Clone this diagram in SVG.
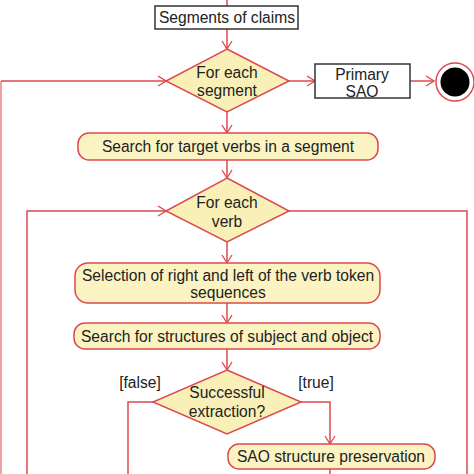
<svg xmlns="http://www.w3.org/2000/svg" width="474" height="474" viewBox="0 0 474 474">
<defs>
<marker id="arr" markerWidth="10" markerHeight="12" refX="9" refY="6" orient="auto" markerUnits="userSpaceOnUse">
<path d="M1,1 L9,6 L1,11" fill="none" stroke="#dc4a4f" stroke-width="1.3"/>
</marker>
<style>
text{font-family:"Liberation Sans",Arial,sans-serif;font-size:15.6px;fill:#222;text-anchor:middle}
.act{fill:#fbf4c2;stroke:#dc4a4f;stroke-width:1.5}
.dec{fill:#f9f0b8;stroke:#dc4a4f;stroke-width:1.5}
.obj{fill:#fff;stroke:#333;stroke-width:1.5}
.e{fill:none;stroke:#dc4a4f;stroke-width:1.5}
.ea{fill:none;stroke:#dc4a4f;stroke-width:1.5;marker-end:url(#arr)}
.outer{fill:none;stroke:#f2a0a4;stroke-width:2}
</style>
</defs>
<rect width="474" height="474" fill="#fff"/>
<g id="connectors">
<path class="e" d="M227,0 V6"/>
<path class="ea" d="M227,29 V49"/>
<path class="ea" d="M289,81 H315"/>
<path class="ea" d="M410,81 H434"/>
<path class="ea" d="M227,112 V133"/>
<path class="outer" d="M1,474 V81"/>
<path class="ea" d="M1,81 H166"/>
<path class="ea" d="M227,160 V178"/>
<path class="ea" d="M27,474 V211 H166"/>
<path class="e" d="M289,211 H467 V474"/>
<path class="ea" d="M227,242 V263"/>
<path class="ea" d="M227,303 V323"/>
<path class="ea" d="M227,349 V370"/>
<path class="e" d="M153,402 H128 V474"/>
<path class="ea" d="M301,402 H330 V444"/>
<path class="e" d="M330,469 V474"/>
<text x="140" y="388">[false]</text>
<text x="316" y="388">[true]</text>
</g>
<g id="segments">
<rect class="obj" x="155" y="6" width="143" height="23"/>
<text x="227" y="23">Segments of claims</text>
</g>
<g id="for-each-segment">
<polygon class="dec" points="227,49 289,81 227,112 166,81"/>
<text x="227" y="78">For each</text>
<text x="227" y="96">segment</text>
</g>
<g id="primary-sao">
<rect class="obj" x="315" y="64" width="95" height="34"/>
<text x="362" y="80">Primary</text>
<text x="362" y="97">SAO</text>
</g>
<g id="end">
<circle cx="455" cy="82" r="19" fill="#fff" stroke="#dc4a4f" stroke-width="1.5"/>
<circle cx="455" cy="82" r="14.5" fill="#000"/>
</g>
<g id="search-verbs">
<rect class="act" x="78" y="133" width="300" height="27" rx="11"/>
<text x="228" y="152">Search for target verbs in a segment</text>
</g>
<g id="for-each-verb">
<polygon class="dec" points="227,178 289,211 227,242 166,211"/>
<text x="227" y="208">For each</text>
<text x="227" y="227">verb</text>
</g>
<g id="selection">
<rect class="act" x="75" y="263" width="305" height="40" rx="13"/>
<text x="228" y="281">Selection of right and left of the verb token</text>
<text x="228" y="298">sequences</text>
</g>
<g id="search-structures">
<rect class="act" x="74" y="323" width="306" height="26" rx="11"/>
<text x="227" y="342">Search for structures of subject and object</text>
</g>
<g id="successful">
<polygon class="dec" points="227,370 301,402 227,434 153,402"/>
<text x="227" y="398">Successful</text>
<text x="227" y="417">extraction?</text>
</g>
<g id="preservation">
<rect class="act" x="228" y="444" width="207" height="25" rx="11"/>
<text x="331" y="462">SAO structure preservation</text>
</g>
</svg>
